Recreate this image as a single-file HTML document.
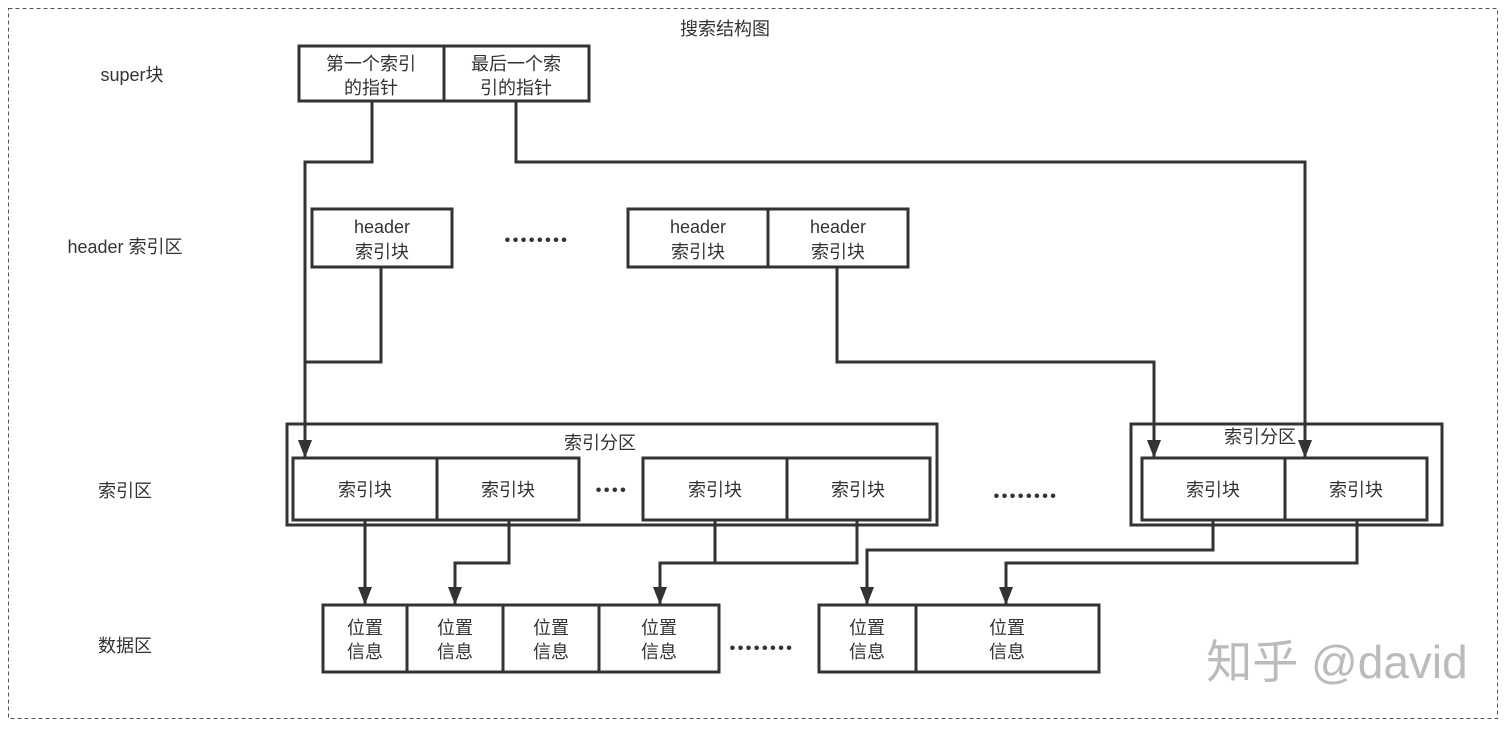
<!DOCTYPE html>
<html><head><meta charset="utf-8"><style>
body{margin:0;background:#fff}
svg text{font-family:"Liberation Sans","Noto Sans CJK SC",sans-serif;fill:#333;text-anchor:middle}
</style></head><body>
<svg width="1506" height="725" xmlns="http://www.w3.org/2000/svg">
<defs>
<marker id="d" markerWidth="14" markerHeight="18" refX="7" refY="17" markerUnits="userSpaceOnUse"><path d="M0,0 L14,0 L7,18 Z" fill="#333"/></marker></defs>
<rect x="8.5" y="8.5" width="1489" height="710" fill="none" stroke="#555" stroke-dasharray="4,3"/>
<g font-size="18">
<text x="725" y="35">搜索结构图</text>
<text x="132" y="81">super块</text>
<text x="125" y="253">header 索引区</text>
<text x="125" y="497">索引区</text>
<text x="125" y="652">数据区</text>
</g>
<g fill="#fff" stroke="#333" stroke-width="3">
<rect x="299" y="46" width="145" height="55"/><rect x="444" y="46" width="145" height="55"/>
<rect x="312" y="209" width="140" height="58"/><rect x="628" y="209" width="140" height="58"/><rect x="768" y="209" width="140" height="58"/>
<rect x="287" y="424" width="650" height="101"/><rect x="1131" y="424" width="311" height="101"/>
<rect x="293" y="458" width="144" height="62"/><rect x="437" y="458" width="142" height="62"/>
<rect x="643" y="458" width="144" height="62"/><rect x="787" y="458" width="143" height="62"/>
<rect x="1142" y="458" width="143" height="62"/><rect x="1285" y="458" width="142" height="62"/>
<rect x="323" y="605" width="84" height="67"/><rect x="407" y="605" width="96" height="67"/><rect x="503" y="605" width="96" height="67"/><rect x="599" y="605" width="120" height="67"/>
<rect x="819" y="605" width="97" height="67"/><rect x="916" y="605" width="183" height="67"/>
</g>
<g fill="none" stroke="#333" stroke-width="3">
<polyline points="372,101 372,162 305,162 305,457" marker-end="url(#d)"/>
<polyline points="516,101 516,162 1305,162 1305,457" marker-end="url(#d)"/>
<polyline points="381,267 381,362 305,362 305,380"/>
<polyline points="837,267 837,362 1154,362 1154,457" marker-end="url(#d)"/>
<polyline points="365,520 365,604" marker-end="url(#d)"/>
<polyline points="509,520 509,563 455,563 455,604" marker-end="url(#d)"/>
<polyline points="715,520 715,563 660,563 660,604" marker-end="url(#d)"/>
<polyline points="857,520 857,563 715,563"/>
<polyline points="1213,520 1213,550 867,550 867,604" marker-end="url(#d)"/>
<polyline points="1357,520 1357,563 1006,563 1006,604" marker-end="url(#d)"/>
</g>
<g font-size="18">
<text x="371" y="70">第一个索引</text><text x="371" y="94">的指针</text>
<text x="516" y="70">最后一个索</text><text x="516" y="94">引的指针</text>
<text x="382" y="233">header</text><text x="382" y="258">索引块</text>
<text x="698" y="233">header</text><text x="698" y="258">索引块</text>
<text x="838" y="233">header</text><text x="838" y="258">索引块</text>
<text x="600" y="449">索引分区</text><text x="1260" y="443">索引分区</text>
<text x="365" y="496">索引块</text><text x="508" y="496">索引块</text><text x="715" y="496">索引块</text><text x="858" y="496">索引块</text>
<text x="1213" y="496">索引块</text><text x="1356" y="496">索引块</text>
<text x="365" y="634">位置</text><text x="365" y="658">信息</text>
<text x="455" y="634">位置</text><text x="455" y="658">信息</text>
<text x="551" y="634">位置</text><text x="551" y="658">信息</text>
<text x="659" y="634">位置</text><text x="659" y="658">信息</text>
<text x="867" y="634">位置</text><text x="867" y="658">信息</text>
<text x="1007" y="634">位置</text><text x="1007" y="658">信息</text>
</g>
<g fill="#333">
<text x="537" y="245" font-size="16" font-weight="bold" letter-spacing="2.5">••••••••</text>
<text x="612" y="495" font-size="16" font-weight="bold" letter-spacing="2.5">••••</text>
<text x="1026" y="501" font-size="16" font-weight="bold" letter-spacing="2.5">••••••••</text>
<text x="762" y="653" font-size="16" font-weight="bold" letter-spacing="2.5">••••••••</text>
</g>
<text x="1337" y="678" font-size="46" style="fill:#bbb">知乎 @david</text>
</svg>
</body></html>
